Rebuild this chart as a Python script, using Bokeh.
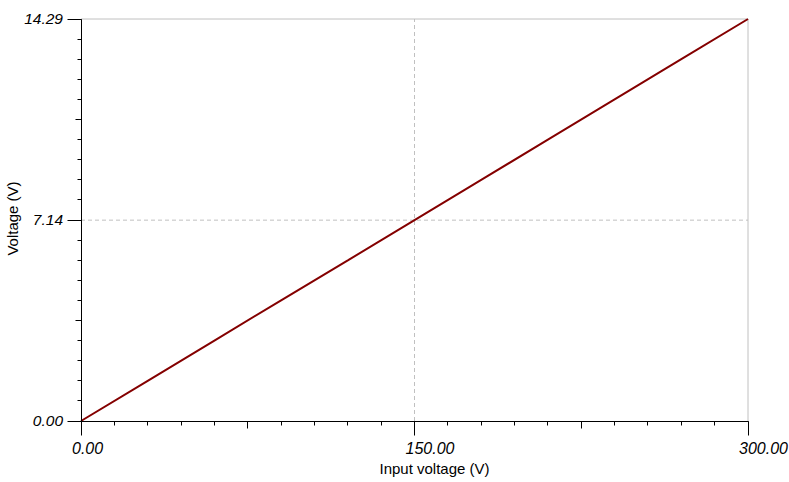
import numpy as np
from bokeh.plotting import figure
from bokeh.models import (FixedTicker, Range1d, Label, LinearAxis,
                          PrintfTickFormatter)
from bokeh.embed import file_html
from bokeh.resources import INLINE

# ---- data ----
input_voltage = [0, 30, 60, 90, 120, 150, 180, 210, 240, 270, 300]
output_voltage = [0.00, 1.43, 2.86, 4.29, 5.71, 7.14, 8.57, 10.00, 11.43, 12.86, 14.29]

x_min, x_max = 0, 300
y_min, y_max = 0, 14.29

x_labeled_ticks = [0, 150, 300]
x_tick_labels = ["0.00", "150.00", "300.00"]
x_mid_ticks = [75, 225]
x_minor_ticks = [0, 15, 30, 45, 60, 75, 90, 105, 120, 135, 150, 165, 180, 195,
                 210, 225, 240, 255, 270, 285, 300]

y_labeled_ticks = [0, 7.14, 14.29]
y_mid_ticks = [3.5725, 10.7175]
y_minor_ticks = [0, 0.7145, 1.429, 2.1435, 2.858, 3.5725, 4.287, 5.0015, 5.716,
                 6.4305, 7.145, 7.8595, 8.574, 9.2885, 10.003, 10.7175, 11.432,
                 12.1465, 12.861, 13.5755, 14.29]

x_grid = [150]
y_grid = [7.14]

x_title = "Input voltage (V)"
y_title = "Voltage (V)"

# ---- layout (pixels of the canvas) ----
W, H = 789, 482
PL, PR, PT, PB = 80.5, 747.5, 18.5, 420.5   # plot box edges
FONT = "Liberation Sans"

xpp = (x_max - x_min) / (PR - PL)
ypp = (y_max - y_min) / (PB - PT)
x_range = Range1d(x_min - PL * xpp, x_max + (W - PR) * xpp)
y_range = Range1d(y_min - (H - PB) * ypp, y_max + PT * ypp)

p = figure(width=W, height=H, x_range=x_range, y_range=y_range,
           output_backend="svg", toolbar_location=None,
           min_border=0, min_border_left=0, min_border_right=0,
           min_border_top=0, min_border_bottom=0,
           background_fill_color="white", border_fill_color="white")
p.outline_line_color = None
p.xgrid.visible = False
p.ygrid.visible = False

# ---- grid lines and box (top / right) ----
p.segment(x0=x_grid, y0=[y_min] * len(x_grid), x1=x_grid, y1=[y_max] * len(x_grid),
          line_color="#c0c0c0", line_dash="4 3", line_width=1)
p.segment(x0=[x_min] * len(y_grid), y0=y_grid, x1=[x_max] * len(y_grid), y1=y_grid,
          line_color="#c0c0c0", line_dash="4 3", line_width=1)
p.segment(x0=[x_min, x_max], y0=[y_max, y_min], x1=[x_max, x_max], y1=[y_max, y_max],
          line_color="#c0c0c0", line_width=1)

# ---- data line ----
p.line(input_voltage, output_voltage, line_color="#840000", line_width=2)

# ---- x axis ----
xa = p.xaxis[0]
xa.fixed_location = y_min
xa.bounds = (x_min, x_max)
xa.ticker = FixedTicker(ticks=x_labeled_ticks, minor_ticks=x_minor_ticks)
xa.major_tick_out = 14
xa.major_tick_in = 0
xa.minor_tick_out = 4
xa.minor_tick_in = 0
xa.axis_line_color = "black"
xa.major_tick_line_color = "black"
xa.minor_tick_line_color = "black"
xa.major_label_overrides = {0: "", 150: "", 300: ""}
xa.major_label_text_font_size = "0px"

xm = LinearAxis(ticker=FixedTicker(ticks=x_mid_ticks, minor_ticks=[]),
                fixed_location=y_min, major_tick_out=7, major_tick_in=0,
                minor_tick_out=0, axis_line_color=None,
                major_tick_line_color="black", major_label_text_font_size="0px",
                major_label_overrides={75: "", 225: ""})
p.add_layout(xm, "below")

# ---- y axis ----
ya = p.yaxis[0]
ya.fixed_location = x_min
ya.bounds = (y_min, y_max)
ya.ticker = FixedTicker(ticks=y_labeled_ticks, minor_ticks=y_minor_ticks)
ya.formatter = PrintfTickFormatter(format="%.2f")
ya.major_tick_out = 14
ya.major_tick_in = 0
ya.minor_tick_out = 4
ya.minor_tick_in = 0
ya.axis_line_color = "black"
ya.major_tick_line_color = "black"
ya.minor_tick_line_color = "black"
ya.major_label_standoff = 4
ya.major_label_text_font = FONT
ya.major_label_text_font_style = "italic"
ya.major_label_text_font_size = "15.5px"
ya.major_label_text_color = "black"

ym = LinearAxis(ticker=FixedTicker(ticks=y_mid_ticks, minor_ticks=[]),
                fixed_location=x_min, major_tick_out=6, major_tick_in=0,
                minor_tick_out=0, axis_line_color=None,
                major_tick_line_color="black", major_label_text_font_size="0px",
                major_label_overrides={3.5725: "", 10.7175: ""})
p.add_layout(ym, "left")

# ---- x tick labels ----
for t, s in zip(x_labeled_ticks, x_tick_labels):
    p.add_layout(Label(x=t, y=y_min, x_units="data", y_units="data", text=s,
                       x_offset=-9, y_offset=-27,
                       text_align="left", text_baseline="middle",
                       text_font=FONT, text_font_style="italic",
                       text_font_size="16px", text_color="black"))

# ---- axis titles ----
p.add_layout(Label(x=434, y=H - 468, x_units="screen", y_units="screen",
                   text=x_title, text_align="center", text_baseline="middle",
                   text_font=FONT, text_font_size="15px", text_color="black"))
p.add_layout(Label(x=12, y=H - 218, x_units="screen", y_units="screen",
                   text=y_title, angle=np.pi / 2, text_align="center",
                   text_baseline="alphabetic",
                   text_font=FONT, text_font_size="15px", text_color="black"))

open("out.html", "w").write(file_html(p, INLINE))
